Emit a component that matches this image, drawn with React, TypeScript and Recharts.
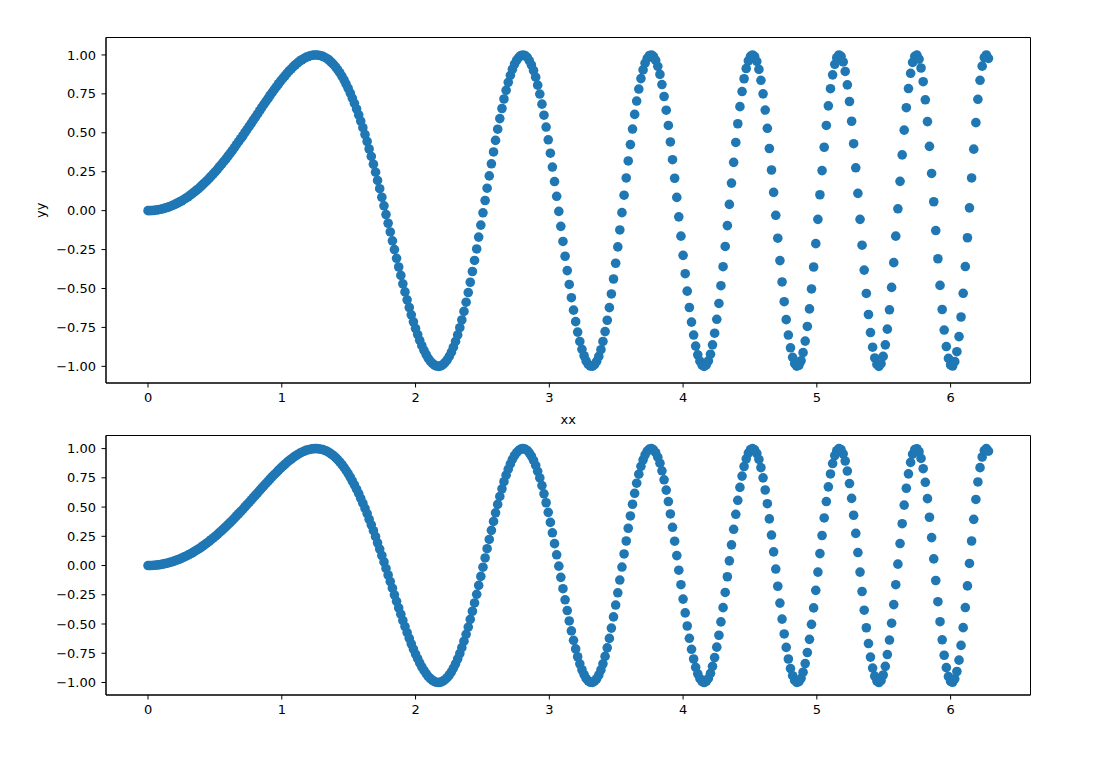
import { Label, ReferenceArea, Scatter, ScatterChart, XAxis, YAxis } from "recharts";

// sample positions along x (400 points from 0 to 2π)
const xValues = [
  0, 0.016, 0.031, 0.047, 0.063, 0.079, 0.094, 0.110, 0.126, 0.142,
  0.157, 0.173, 0.189, 0.205, 0.220, 0.236, 0.252, 0.268, 0.283, 0.299,
  0.315, 0.331, 0.346, 0.362, 0.378, 0.394, 0.409, 0.425, 0.441, 0.457,
  0.472, 0.488, 0.504, 0.520, 0.535, 0.551, 0.567, 0.583, 0.598, 0.614,
  0.630, 0.646, 0.661, 0.677, 0.693, 0.709, 0.724, 0.740, 0.756, 0.772,
  0.787, 0.803, 0.819, 0.835, 0.850, 0.866, 0.882, 0.898, 0.913, 0.929,
  0.945, 0.961, 0.976, 0.992, 1.008, 1.024, 1.039, 1.055, 1.071, 1.087,
  1.102, 1.118, 1.134, 1.150, 1.165, 1.181, 1.197, 1.213, 1.228, 1.244,
  1.260, 1.276, 1.291, 1.307, 1.323, 1.339, 1.354, 1.370, 1.386, 1.402,
  1.417, 1.433, 1.449, 1.465, 1.480, 1.496, 1.512, 1.527, 1.543, 1.559,
  1.575, 1.590, 1.606, 1.622, 1.638, 1.653, 1.669, 1.685, 1.701, 1.716,
  1.732, 1.748, 1.764, 1.779, 1.795, 1.811, 1.827, 1.842, 1.858, 1.874,
  1.890, 1.905, 1.921, 1.937, 1.953, 1.968, 1.984, 2.000, 2.016, 2.031,
  2.047, 2.063, 2.079, 2.094, 2.110, 2.126, 2.142, 2.157, 2.173, 2.189,
  2.205, 2.220, 2.236, 2.252, 2.268, 2.283, 2.299, 2.315, 2.331, 2.346,
  2.362, 2.378, 2.394, 2.409, 2.425, 2.441, 2.457, 2.472, 2.488, 2.504,
  2.520, 2.535, 2.551, 2.567, 2.583, 2.598, 2.614, 2.630, 2.646, 2.661,
  2.677, 2.693, 2.709, 2.724, 2.740, 2.756, 2.772, 2.787, 2.803, 2.819,
  2.835, 2.850, 2.866, 2.882, 2.898, 2.913, 2.929, 2.945, 2.960, 2.976,
  2.992, 3.008, 3.023, 3.039, 3.055, 3.071, 3.086, 3.102, 3.118, 3.134,
  3.149, 3.165, 3.181, 3.197, 3.212, 3.228, 3.244, 3.260, 3.275, 3.291,
  3.307, 3.323, 3.338, 3.354, 3.370, 3.386, 3.401, 3.417, 3.433, 3.449,
  3.464, 3.480, 3.496, 3.512, 3.527, 3.543, 3.559, 3.575, 3.590, 3.606,
  3.622, 3.638, 3.653, 3.669, 3.685, 3.701, 3.716, 3.732, 3.748, 3.764,
  3.779, 3.795, 3.811, 3.827, 3.842, 3.858, 3.874, 3.890, 3.905, 3.921,
  3.937, 3.953, 3.968, 3.984, 4.000, 4.016, 4.031, 4.047, 4.063, 4.079,
  4.094, 4.110, 4.126, 4.142, 4.157, 4.173, 4.189, 4.205, 4.220, 4.236,
  4.252, 4.268, 4.283, 4.299, 4.315, 4.331, 4.346, 4.362, 4.378, 4.394,
  4.409, 4.425, 4.441, 4.456, 4.472, 4.488, 4.504, 4.519, 4.535, 4.551,
  4.567, 4.582, 4.598, 4.614, 4.630, 4.645, 4.661, 4.677, 4.693, 4.708,
  4.724, 4.740, 4.756, 4.771, 4.787, 4.803, 4.819, 4.834, 4.850, 4.866,
  4.882, 4.897, 4.913, 4.929, 4.945, 4.960, 4.976, 4.992, 5.008, 5.023,
  5.039, 5.055, 5.071, 5.086, 5.102, 5.118, 5.134, 5.149, 5.165, 5.181,
  5.197, 5.212, 5.228, 5.244, 5.260, 5.275, 5.291, 5.307, 5.323, 5.338,
  5.354, 5.370, 5.386, 5.401, 5.417, 5.433, 5.449, 5.464, 5.480, 5.496,
  5.512, 5.527, 5.543, 5.559, 5.575, 5.590, 5.606, 5.622, 5.638, 5.653,
  5.669, 5.685, 5.701, 5.716, 5.732, 5.748, 5.764, 5.779, 5.795, 5.811,
  5.827, 5.842, 5.858, 5.874, 5.889, 5.905, 5.921, 5.937, 5.952, 5.968,
  5.984, 6.000, 6.015, 6.031, 6.047, 6.063, 6.078, 6.094, 6.110, 6.126,
  6.141, 6.157, 6.173, 6.189, 6.204, 6.220, 6.236, 6.252, 6.267, 6.283,
];

const yValues = [
  0, 0.000, 0.001, 0.002, 0.004, 0.006, 0.009, 0.012, 0.016, 0.020,
  0.025, 0.030, 0.036, 0.042, 0.049, 0.056, 0.063, 0.072, 0.080, 0.089,
  0.099, 0.109, 0.120, 0.131, 0.142, 0.154, 0.167, 0.180, 0.193, 0.207,
  0.221, 0.236, 0.251, 0.267, 0.283, 0.299, 0.316, 0.333, 0.350, 0.368,
  0.386, 0.405, 0.424, 0.443, 0.462, 0.481, 0.501, 0.521, 0.541, 0.561,
  0.581, 0.601, 0.621, 0.642, 0.662, 0.682, 0.702, 0.721, 0.741, 0.760,
  0.779, 0.797, 0.815, 0.833, 0.850, 0.866, 0.882, 0.897, 0.911, 0.925,
  0.937, 0.949, 0.960, 0.969, 0.977, 0.985, 0.990, 0.995, 0.998, 1.000,
  1.000, 0.998, 0.995, 0.991, 0.984, 0.976, 0.966, 0.953, 0.940, 0.924,
  0.906, 0.886, 0.864, 0.840, 0.814, 0.786, 0.755, 0.723, 0.689, 0.653,
  0.615, 0.575, 0.533, 0.489, 0.444, 0.396, 0.348, 0.298, 0.247, 0.194,
  0.141, 0.086, 0.031, -0.025, -0.081, -0.137, -0.194, -0.250, -0.306, -0.362,
  -0.416, -0.470, -0.522, -0.573, -0.622, -0.669, -0.714, -0.757, -0.796, -0.833,
  -0.867, -0.897, -0.924, -0.947, -0.966, -0.981, -0.992, -0.998, -1.000, -0.997,
  -0.989, -0.976, -0.959, -0.936, -0.909, -0.877, -0.840, -0.798, -0.752, -0.702,
  -0.647, -0.588, -0.526, -0.460, -0.391, -0.320, -0.246, -0.170, -0.093, -0.014,
  0.065, 0.144, 0.223, 0.301, 0.377, 0.451, 0.523, 0.591, 0.656, 0.717,
  0.773, 0.824, 0.869, 0.908, 0.941, 0.966, 0.985, 0.996, 1.000, 0.996,
  0.984, 0.964, 0.936, 0.900, 0.857, 0.806, 0.749, 0.684, 0.613, 0.537,
  0.455, 0.369, 0.280, 0.187, 0.092, -0.005, -0.101, -0.198, -0.293, -0.385,
  -0.474, -0.559, -0.639, -0.713, -0.780, -0.840, -0.891, -0.932, -0.965, -0.987,
  -0.998, -0.999, -0.989, -0.968, -0.936, -0.893, -0.840, -0.777, -0.704, -0.623,
  -0.535, -0.439, -0.338, -0.233, -0.124, -0.013, 0.099, 0.210, 0.319, 0.424,
  0.524, 0.618, 0.704, 0.781, 0.848, 0.904, 0.947, 0.978, 0.996, 1.000,
  0.989, 0.965, 0.927, 0.875, 0.810, 0.733, 0.645, 0.547, 0.441, 0.327,
  0.208, 0.085, -0.040, -0.164, -0.287, -0.405, -0.517, -0.622, -0.716, -0.799,
  -0.870, -0.926, -0.967, -0.992, -1.000, -0.991, -0.965, -0.922, -0.862, -0.787,
  -0.698, -0.596, -0.482, -0.360, -0.230, -0.096, 0.040, 0.177, 0.310, 0.438,
  0.558, 0.668, 0.765, 0.847, 0.913, 0.962, 0.991, 1.000, 0.989, 0.958,
  0.907, 0.837, 0.750, 0.646, 0.529, 0.399, 0.261, 0.117, -0.030, -0.177,
  -0.321, -0.458, -0.585, -0.700, -0.799, -0.881, -0.942, -0.982, -0.999, -0.993,
  -0.964, -0.912, -0.838, -0.744, -0.631, -0.503, -0.362, -0.212, -0.056, 0.102,
  0.257, 0.407, 0.547, 0.673, 0.783, 0.872, 0.940, 0.982, 1.000, 0.991,
  0.955, 0.894, 0.808, 0.701, 0.574, 0.430, 0.275, 0.111, -0.056, -0.222,
  -0.382, -0.532, -0.667, -0.783, -0.877, -0.946, -0.988, -1.000, -0.983, -0.936,
  -0.862, -0.761, -0.637, -0.493, -0.334, -0.164, 0.012, 0.188, 0.358, 0.517,
  0.661, 0.784, 0.882, 0.952, 0.991, 0.999, 0.973, 0.916, 0.828, 0.712,
  0.572, 0.413, 0.239, 0.057, -0.128, -0.309, -0.480, -0.635, -0.767, -0.873,
  -0.949, -0.991, -0.998, -0.970, -0.906, -0.809, -0.683, -0.531, -0.359, -0.174,
  0.018, 0.210, 0.395, 0.565, 0.715, 0.837, 0.928, 0.983, 1.000, 0.978,
];

const xTicks = [0, 1, 2, 3, 4, 5, 6];
const yTicks = [-1, -0.75, -0.5, -0.25, 0, 0.25, 0.5, 0.75, 1];
const xDomain = [-0.3142, 6.5973];
const yDomain = [-1.107, 1.112];

const points = xValues.map((x, i) => ({ x, y: yValues[i] }));

const FONT = "DejaVu Sans";
const BLUE = "#1f77b4";
const tickStyle = { fill: "#000", fontSize: 13, fontFamily: FONT };

const fmtY = (v: number) => v.toFixed(2).replace("-", "\u2212");

const Dot = (props: any) => <circle cx={props.cx} cy={props.cy} r={4.8} fill={BLUE} />;

interface PanelProps {
  top: number;
  height: number;
  marginTop: number;
  marginBottom: number;
  xAxisHeight: number;
  labels?: boolean;
}

function Panel({ top, height, marginTop, marginBottom, xAxisHeight, labels }: PanelProps) {
  return (
    <div style={{ position: "absolute", left: 0, top, width: 1093, height }}>
      <ScatterChart
        width={1093}
        height={height}
        margin={{ top: marginTop, right: 62.5, bottom: marginBottom, left: 0 }}
      >
        <XAxis
          type="number"
          dataKey="x"
          domain={xDomain}
          ticks={xTicks}
          interval={0}
          height={xAxisHeight}
          tickSize={4.5}
          tickMargin={5}
          tick={tickStyle}
          tickLine={{ stroke: "#000" }}
          axisLine={{ stroke: "#000" }}
          allowDataOverflow
        >
          {labels ? <Label value="xx" position="center" dy={14} fill="#000" fontSize={13} fontFamily={FONT} /> : null}
        </XAxis>
        <YAxis
          type="number"
          dataKey="y"
          domain={yDomain}
          ticks={yTicks}
          interval={0}
          width={106}
          tickSize={4.5}
          tickMargin={5.5}
          tickFormatter={fmtY}
          tick={tickStyle}
          tickLine={{ stroke: "#000" }}
          axisLine={{ stroke: "#000" }}
          allowDataOverflow
        >
          {labels ? (
            <Label value="yy" position="center" angle={-90} dx={-13} fill="#000" fontSize={13} fontFamily={FONT} />
          ) : null}
        </YAxis>
        <ReferenceArea x1={xDomain[0]} x2={xDomain[1]} y1={yDomain[0]} y2={yDomain[1]} fill="none" stroke="#000" strokeOpacity={1} />
        <Scatter data={points} fill={BLUE} shape={Dot} isAnimationActive={false} />
      </ScatterChart>
    </div>
  );
}

export default function App() {
  return (
    <div style={{ position: "absolute", left: 0, top: 0, width: 1093, height: 772, background: "#fff", fontFamily: FONT }}>
      <Panel top={0} height={428} marginTop={37.5} marginBottom={0} xAxisHeight={45} labels />
      <Panel top={420} height={352} marginTop={15.5} marginBottom={47} xAxisHeight={30} />
    </div>
  );
}
